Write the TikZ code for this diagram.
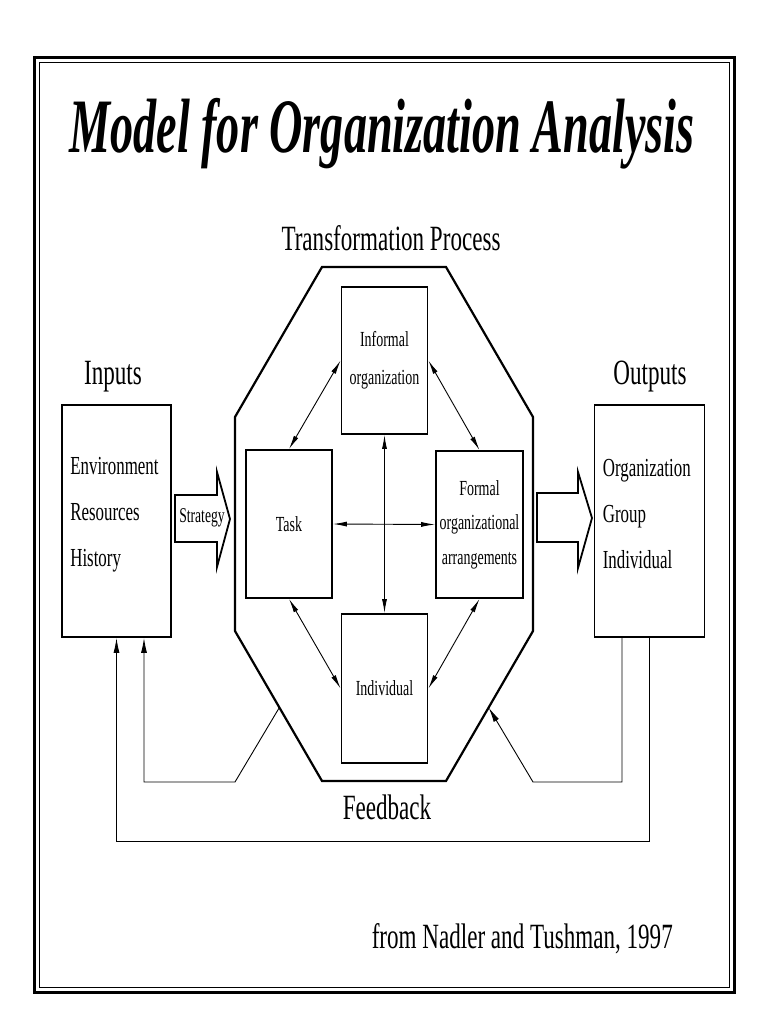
\documentclass[tikz,border=0pt]{standalone}
\usepackage{fontspec}
\setmainfont[FakeStretch=0.65]{Liberation Serif}
\newfontfamily\titlefont[FakeStretch=0.6]{Liberation Serif}
\usetikzlibrary{arrows.meta,positioning,calc}
\newcommand{\fsz}[2]{\fontsize{#1}{#2}\selectfont}

\begin{document}
\begin{tikzpicture}[
    x=1pt, y=-1pt,
    every node/.style={inner sep=0pt},
    sidebox/.style={rectangle, draw, line width=1.8pt, minimum width=110pt, minimum height=232pt},
    corebox/.style={rectangle, draw, line width=1.8pt, minimum width=86pt, minimum height=148pt,
                    align=center, font=\fsz{21.5}{36}},
    listtext/.style={align=left, font=\fsz{26}{46}},
    headtext/.style={font=\fsz{35.5}{40}},
    octline/.style={line width=2.2pt, line join=miter},
    blockarrow/.style={line width=1.8pt, line join=miter},
    arrow/.style={{Latex[length=14pt,width=5pt]}-{Latex[length=14pt,width=5pt]}, line width=0.9pt},
    fbarrow/.style={-{Latex[length=15pt,width=6pt]}, line width=0.9pt}
]
\useasboundingbox (0,0) rectangle (768,1024);
% frame
\draw[line width=3pt] (34,58) rectangle (734,992);
\draw[line width=1pt] (39,63) rectangle (729,987);

\node[font=\titlefont\fsz{77}{84}\bfseries\itshape, anchor=base] (title) at (382,153) {Model for Organization Analysis};

% transformation process
\coordinate (o1) at (322,267);
\coordinate (o2) at (446,267);
\coordinate (o3) at (533,417);
\coordinate (o4) at (533,631);
\coordinate (o5) at (446,781);
\coordinate (o6) at (322,781);
\coordinate (o7) at (235,631);
\coordinate (o8) at (235,417);
\draw[octline] (o1) -- (o2) -- (o3) -- (o4) -- (o5) -- (o6) -- (o7) -- (o8) -- cycle;
\coordinate (fbl) at ($(o7)!0.51!(o6)$);
\coordinate (fbr) at ($(o4)!0.51!(o5)$);
\node[headtext, anchor=base] (transf) at (391,251) {Transformation Process};
\node[headtext, anchor=base] (feedback) at (387,819) {Feedback};

\node[corebox, minimum height=147pt, font=\fsz{21.5}{38}] (informal) at (384.5,360.5) {Informal\\organization};
\node[corebox] (task) at (289,524) {Task};
\node[corebox, minimum width=87pt, minimum height=147pt, font=\fsz{21.5}{34.5}] (formal) at (479.5,524.5)
    {Formal\\organizational\\arrangements};
\node[corebox, minimum height=149pt] (indiv) at (384.5,688.5) {Individual};

\draw[arrow] (task.north) -- (informal.west);
\draw[arrow] (formal.north) -- (informal.east);
\draw[arrow] (task.south) -- (indiv.west);
\draw[arrow] (formal.south) -- (indiv.east);
\draw[arrow] (informal.south) -- (indiv.north);
\draw[arrow] (task.east) -- (formal.west);

% inputs
\node[sidebox, minimum width=109pt] (inputs) at (116.5,521) {};
\node[headtext, anchor=base] (inlabel) at (113,384) {Inputs};
\node[listtext, right=9pt of inputs.west, yshift=6.5pt] (inlist) {Environment\\Resources\\History};

% outputs
\node[sidebox] (outputs) at (649.5,521) {};
\node[headtext, anchor=base] (outlabel) at (650,384) {Outputs};
\node[listtext, right=9pt of outputs.west, yshift=6.5pt] (outlist) {Organization\\Group\\Individual};

% block arrows
\draw[blockarrow] (175,495) -- (217,495) -- (217,472) -- (230,519) -- (217,567) -- (217,542) -- (175,542) -- cycle;
\node[font=\fsz{21}{24}] (strategy) at (202,518) {Strategy};
\draw[blockarrow] (537,493) -- (578,493) -- (578,472) -- (592,518) -- (578,568) -- (578,542) -- (537,542) -- cycle;

% feedback loops
\draw[fbarrow] (fbl) -- (235,782) -| ([xshift=27.5pt]inputs.south);
\draw[fbarrow] ([xshift=-27.5pt]outputs.south) |- (533,782) -- (fbr);
\draw[fbarrow] (outputs.south) -- ++(0,204) -| (inputs.south);

\node[headtext, anchor=base east] (source) at (673,948) {from Nadler and Tushman, 1997};
\end{tikzpicture}
\end{document}
